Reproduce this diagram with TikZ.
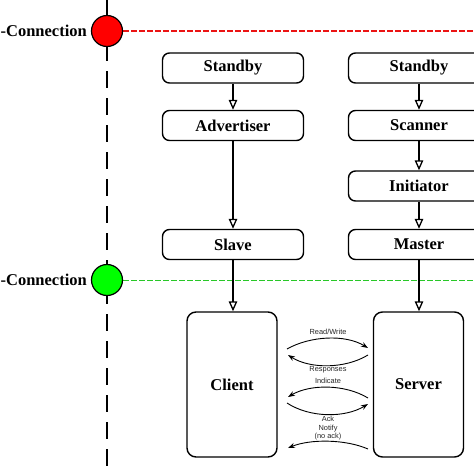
\documentclass[tikz,border=0pt]{standalone}
\usepackage{fontspec}
\setmainfont{Liberation Serif}
\newfontfamily\smallsans{Liberation Sans}
\usetikzlibrary{arrows.meta}
\definecolor{conred}{RGB}{235,20,20}
\definecolor{congreen}{RGB}{40,200,40}
\tikzset{
  statebox/.style={draw, line width=1.4pt, rounded corners=7pt, minimum width=141pt, minimum height=30pt, inner sep=0pt, font=\fontsize{16.5}{18}\selectfont\bfseries},
  rolebox/.style={draw, line width=1.4pt, rounded corners=9pt, minimum width=90pt, minimum height=145pt, inner sep=0pt, font=\fontsize{16.5}{18}\selectfont\bfseries},
  flow/.style={line width=1.4pt, -{Triangle[open, length=10pt, width=8.5pt, line width=1.3pt]}},
  msg/.style={line width=0.9pt, -{Stealth[length=7pt, width=5pt]}},
  msglabel/.style={font=\smallsans\fontsize{7.4}{8.5}\selectfont, inner sep=0pt, text=black!85},
  sidelabel/.style={font=\fontsize{16.5}{18}\selectfont\bfseries, anchor=east, inner sep=0pt},
  stateline/.style={line width=1pt, dash pattern=on 6pt off 2pt},
}
\begin{document}
\begin{tikzpicture}[x=1pt, y=-1pt]
\useasboundingbox (0,0) rectangle (474,474);
\clip (0,0) rectangle (474,474);
% timeline
\draw[line width=1.4pt, dash pattern=on 17pt off 10pt, dash phase=5pt] (107,-5) -- (107,480);
\draw[line width=1.4pt] (107,0) -- (107,16);
\draw[line width=1.4pt] (107,262) -- (107,266);
% state lines
\draw[stateline, draw=conred, line width=1.5pt] (123,31) -- (480,31);
\draw[stateline, draw=congreen] (123,280) -- (480,280);
\node[circle, draw, line width=1.2pt, fill=red, minimum size=31pt, inner sep=0pt] (rc) at (107,31) {};
\node[circle, draw, line width=1.2pt, fill=green, minimum size=31pt, inner sep=0pt] (gc) at (107,280) {};
\node[sidelabel] (l1) at (87,31) {-Connection};
\node[sidelabel] (l2) at (87,280) {-Connection};
% left column
\node[statebox] (s1) at (233,68) {Standby};
\node[statebox] (adv) at (233,125.5) {Advertiser};
\node[statebox] (sl) at (233,244.5) {Slave};
% right column
\node[statebox] (s2) at (419,68) {Standby};
\node[statebox] (sc) at (419,125.5) {Scanner};
\node[statebox] (in) at (419,186) {Initiator};
\node[statebox] (ma) at (419,244.5) {Master};
% client / server
\node[rolebox] (cl) at (232,384.5) {Client};
\node[rolebox] (sv) at (418.5,384.5) {Server};
% flow arrows
\draw[flow] (s1) -- (adv);
\draw[flow] (adv) -- (sl);
\draw[flow] (sl.south) -- (sl.south |- cl.north);
\draw[flow] (s2) -- (sc);
\draw[flow] (sc) -- (in);
\draw[flow] (in) -- (ma);
\draw[flow] (ma.south) -- (ma.south |- sv.north);
% messages
\coordinate (a1) at (287,349);
\coordinate (b1) at (368,348);
\draw[msg] (a1) .. controls (310,336) and (345,334) .. (b1);
\node[msglabel] (t1) at (328,332) {Read/Write};
\coordinate (a2) at (368,355);
\coordinate (b2) at (288,355);
\draw[msg] (a2) .. controls (345,369) and (310,369) .. (b2);
\node[msglabel] (t2) at (328,370) {Responses};
\coordinate (a3) at (368,398);
\coordinate (b3) at (288,397);
\draw[msg] (a3) .. controls (345,384) and (310,384) .. (b3);
\node[msglabel] (t3) at (328,381) {Indicate};
\coordinate (a4) at (287,403);
\coordinate (b4) at (368,404);
\draw[msg] (a4) .. controls (310,418) and (345,418) .. (b4);
\node[msglabel] (t4) at (328,419) {Ack};
\coordinate (a5) at (368,449);
\coordinate (b5) at (288,448);
\draw[msg] (a5) .. controls (345,439) and (310,439) .. (b5);
\node[msglabel] (t5) at (328,429) {Notify};
\node[msglabel] (t6) at (328,437) {(no ack)};
\end{tikzpicture}
\end{document}
